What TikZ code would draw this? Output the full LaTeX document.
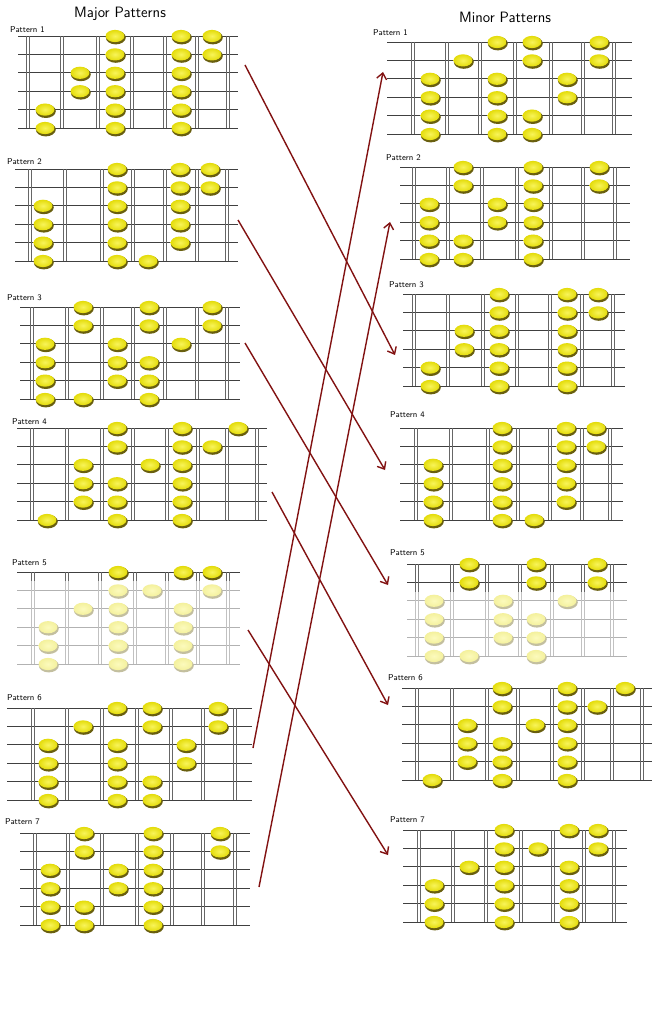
\documentclass[tikz,border=0pt]{standalone}
\usepackage{xcolor}
\usepackage{tikz}
\usetikzlibrary{arrows.meta}

\definecolor{beadyellow}{RGB}{228,220,10}
\definecolor{beadlight}{RGB}{248,244,90}
\definecolor{beaddark}{RGB}{105,95,15}
\definecolor{linkred}{RGB}{130,18,18}

\tikzset{
  fstring/.style={draw=black!75,line width=0.9pt},
  ffret/.style={draw=black!60,line width=1.2pt},
  plabel/.style={anchor=west,inner sep=0pt,font=\sffamily\fontsize{8.5}{8.5}\selectfont},
  ptitle/.style={inner sep=0pt,font=\sffamily\fontsize{15}{15}\selectfont},
  link/.style={draw=linkred,line width=1.4pt,-{Straight Barb[length=6pt,width=10pt]}},
  bead/.pic={
    \fill[beaddark] (0.8,1.5) ellipse [x radius=10pt,y radius=6.9pt];
    \shade[inner color=beadlight,outer color=beadyellow] (0,0) ellipse [x radius=9.4pt,y radius=6.1pt];
  }
}

% #1 string start, #2 string end, #3 top string, #4 frets, #5 beads (x/strings)
\newcommand{\fretboard}[5]{%
  \foreach \s in {0,...,5}
    \draw[fstring] (#1,#3+\s*18.4) -- (#2,#3+\s*18.4);
  \foreach \f in {#4} {
    \draw[ffret] (\f-1.5,#3) -- (\f-1.5,#3+92);
    \draw[ffret] (\f+1.5,#3) -- (\f+1.5,#3+92);
  }
  \foreach \dx/\ss in {#5}
    \foreach \s in \ss
      \pic at (\dx,#3+\s*18.4-18.4) {bead};
}

\begin{document}
\begin{tikzpicture}[x=1pt,y=-1pt]
	\useasboundingbox (0,0) rectangle (669,1024);
	\fill[white] (0,0) rectangle (669,1024);

	% titles
	\node[ptitle] (majtitle) at (120,14) {Major Patterns};
	\node[ptitle] (mintitle) at (505,17) {Minor Patterns};

	% major patterns
	\node[plabel] (maj1lab) at (10,30) {Pattern 1};
	\fretboard{18}{238}{36}{28,62,98,132,165,197,228}{45/{5,6},80/{3,4},115/{1,...,6},181/{1,...,6},212/{1,2}}
	\node[plabel] (maj2lab) at (7,162) {Pattern 2};
	\fretboard{15}{238}{169}{30,65,102,133,165,197,227}{43/{3,4,5,6},117/{1,...,6},148/{6},180/{1,...,5},210/{1,2}}
	\node[plabel] (maj3lab) at (7,298) {Pattern 3};
	\fretboard{20}{240}{307}{32,67,102,133,165,197,227}{45/{3,4,5,6},83/{1,2,6},117/{3,4,5},149/{1,2,4,5,6},181/{3},212/{1,2}}
	\node[plabel] (maj4lab) at (12,422) {Pattern 4};
	\fretboard{17}{267}{428}{32,67,102,133,167,198,227,257}{47/{6},83/{3,4,5},117/{1,2,4,5,6},150/{3},182/{1,...,6},212/{2},238/{1}}
	\node[plabel] (maj5lab) at (12,563) {Pattern 5};
	\fretboard{17}{240}{572}{33,67,100,135,167,198,228}{48/{4,5,6},83/{3},118/{1,...,6},152/{2},183/{1,3,4,5,6},212/{1,2}}
	\fill[white,opacity=0.6] (10,581) rectangle (246,673);
	\node[plabel] (maj6lab) at (7,698) {Pattern 6};
	\fretboard{7}{252}{708}{33,67,102,137,171,203,235}{48/{3,4,5,6},83/{2},117/{1,3,4,5,6},152/{1,2,5,6},186/{3,4},218/{1,2}}
	\node[plabel] (maj7lab) at (5,822) {Pattern 7};
	\fretboard{20}{250}{833}{35,68,102,137,172,203,235}{50/{3,4,5,6},84/{1,2,5,6},118/{3,4},153/{1,...,6},220/{1,2}}

	% minor patterns
	\node[plabel] (min1lab) at (373,33) {Pattern 1};
	\fretboard{387}{632}{42}{413,447,480,515,551,583,614}{430/{3,4,5,6},463/{2},497/{1,3,4,5,6},532/{1,2,5,6},567/{3,4},599/{1,2}}
	\node[plabel] (min2lab) at (386,158) {Pattern 2};
	\fretboard{400}{630}{167}{414,448,482,517,551,583,615}{429/{3,4,5,6},463/{1,2,5,6},497/{3,4},533/{1,...,6},599/{1,2}}
	\node[plabel] (min3lab) at (389,285) {Pattern 3};
	\fretboard{403}{625}{294}{414,448,483,517,550,582,613}{430/{5,6},464/{3,4},499/{1,...,6},567/{1,...,6},598/{1,2}}
	\node[plabel] (min4lab) at (390,415) {Pattern 4};
	\fretboard{400}{623}{428}{416,451,488,518,550,582,610}{433/{3,4,5,6},502/{1,...,6},534/{6},566/{1,...,5},596/{1,2}}
	\node[plabel] (min5lab) at (390,553) {Pattern 5};
	\fretboard{407}{627}{564}{417,452,487,520,552,583,612}{434/{3,4,5,6},469/{1,2,6},503/{3,4,5},536/{1,2,4,5,6},567/{3},597/{1,2}}
	\fill[white,opacity=0.6] (400,592) rectangle (634,666);
	\node[plabel] (min6lab) at (388,678) {Pattern 6};
	\fretboard{402}{652}{688}{417,452,487,518,552,583,612,642}{432/{6},467/{3,4,5},502/{1,2,4,5,6},535/{3},567/{1,...,6},597/{2},625/{1}}
	\node[plabel] (min7lab) at (390,820) {Pattern 7};
	\fretboard{403}{627}{830}{419,453,486,521,553,584,614}{434/{4,5,6},469/{3},504/{1,...,6},538/{2},569/{1,3,4,5,6},598/{1,2}}

	% arrows
	\coordinate (maj1out) at (245,65);
	\coordinate (maj2out) at (238,220);
	\coordinate (maj3out) at (245,343);
	\coordinate (maj4out) at (272,492);
	\coordinate (maj5out) at (248,630);
	\coordinate (maj6out) at (253,748);
	\coordinate (maj7out) at (259,887);
	\coordinate (min1in) at (383,72);
	\coordinate (min2in) at (390,222);
	\coordinate (min3in) at (395,355);
	\coordinate (min4in) at (385,470);
	\coordinate (min5in) at (388,585);
	\coordinate (min6in) at (388,705);
	\coordinate (min7in) at (388,855);
	\draw[link] (maj1out) -- (min3in);
	\draw[link] (maj2out) -- (min4in);
	\draw[link] (maj3out) -- (min5in);
	\draw[link] (maj4out) -- (min6in);
	\draw[link] (maj5out) -- (min7in);
	\draw[link] (maj6out) -- (min1in);
	\draw[link] (maj7out) -- (min2in);
\end{tikzpicture}
\end{document}
